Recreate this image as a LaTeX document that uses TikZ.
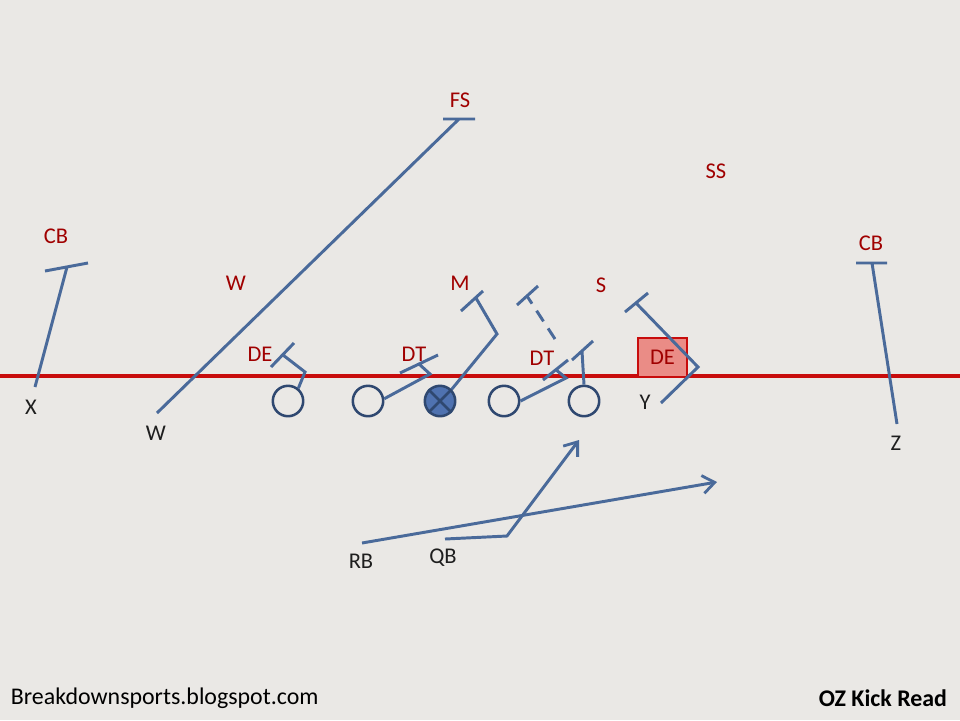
\documentclass[tikz,border=0pt]{standalone}
\usepackage{fontspec}
\setmainfont{Carlito}
\usepackage{xcolor}
\definecolor{field}{RGB}{234,232,229}
\definecolor{routeblue}{RGB}{74,106,154}
\definecolor{playerblue}{RGB}{47,72,112}
\definecolor{qbfill}{RGB}{79,114,176}
\definecolor{losred}{RGB}{200,12,12}
\definecolor{defred}{RGB}{160,0,0}
\definecolor{offgrey}{RGB}{30,30,30}
\definecolor{boxred}{RGB}{234,140,134}
\usetikzlibrary{arrows.meta}

\tikzset{
    oline/.style={circle, draw=playerblue, line width=1.8pt,
        minimum size=7.6mm, inner sep=0pt},
    route/.style={draw=routeblue, line width=2.1pt},
    runarrow/.style={route, -{Straight Barb[length=3mm, width=4.5mm, line width=2pt]}},
    deflabel/.style={text=defred, font=\fontsize{16}{18}\selectfont},
    offlabel/.style={text=offgrey, font=\fontsize{16}{18}\selectfont},
}

\begin{document}
\begin{tikzpicture}
    [x=0.25mm, y=-0.25mm]
    \fill[field] (0,0) rectangle (960,720);
    \useasboundingbox (0,0) rectangle (960,720);
    % line of scrimmage
    \draw[losred, line width=2.3pt] (0,376)--(960,376);
    \node[draw=losred, fill=boxred, line width=1.5pt, minimum width=12.2mm,
        minimum height=9.8mm, inner sep=0pt, deflabel] (de2) at (662.5,357.5) {DE};
    % offensive line
    \node[oline] (lt) at (288,401) {};
    \node[oline] (lg) at (368,401) {};
    \node[oline, fill=qbfill] (ctr) at (440,401) {};
    \node[oline] (rg) at (504,401) {};
    \node[oline] (rt) at (584,401) {};
    \draw[playerblue, line width=1.8pt] (ctr.45)--(ctr.225) (ctr.135)--(ctr.-45);
    % offense
    \node[offlabel] (x) at (31,407) {X};
    \node[offlabel] (w) at (156,433) {W};
    \node[offlabel] (y) at (645,402) {Y};
    \node[offlabel] (z) at (896,443) {Z};
    \node[offlabel] (rb) at (361,561) {RB};
    \node[offlabel] (qb) at (443,558) {QB};
    % defense
    \node[deflabel] (cbl) at (56,236) {CB};
    \node[deflabel] (wl) at (236,283) {W};
    \node[deflabel] (de1) at (260,354) {DE};
    \node[deflabel] (dt1) at (414,354) {DT};
    \node[deflabel] (ml) at (460,283) {M};
    \node[deflabel] (dt2) at (542,358) {DT};
    \node[deflabel] (sl) at (601,285) {S};
    \node[deflabel] (fs) at (460,100) {FS};
    \node[deflabel] (ss) at (716,171) {SS};
    \node[deflabel] (cbr) at (871,243) {CB};
    % routes
    \coordinate (xs) at (35,387);
    \coordinate (xe) at (67,267);
    \coordinate (ws) at (157,413);
    \coordinate (we) at (459,119);
    \coordinate (zs) at (897,424);
    \coordinate (ze) at (872,263);
    \draw[route] (xs)--(xe) ++(-22,4)--++(43,-8);
    \draw[route] (ws)--(we) ++(-16,0)--++(32,0);
    \draw[route] (zs)--(ze) ++(-16,0)--++(31,0);
    % blocks
    \coordinate (ltk) at (305,372);
    \coordinate (lte) at (283,355);
    \draw[route] (lt.51)--(ltk)--(lte) ++(-12,12)--++(23,-24);
    \coordinate (lgk) at (430,374);
    \coordinate (lge) at (419,364);
    \draw[route] (lg.8)--(lgk)--(lge) ++(-19,9)--++(38,-18);
    \coordinate (ctk) at (497,334);
    \coordinate (cte) at (476,298);
    \draw[route] (ctr.45)--(ctk)--(cte) ++(-15,13)--++(22,-20);
    \coordinate (dss) at (555,339);
    \coordinate (dse) at (527,296);
    \draw[route, dash pattern=on 9pt off 6pt] (dss)--(dse);
    \draw[route] (dse) ++(-10,9)--++(21,-19);
    \coordinate (rgk) at (566,378);
    \coordinate (rge) at (555,369);
    \draw[route] (rg.east)--(rgk)--(rge) ++(-12,11)--++(25,-20);
    \coordinate (rte) at (582,351);
    \draw[route] (rt.north)--(rte) ++(-10,9)--++(21,-19);
    \coordinate (ys) at (661,403);
    \coordinate (yk) at (698,367);
    \coordinate (ye) at (636,303);
    \draw[route] (ys)--(yk)--(ye) ++(-11,9)--++(23,-19);
    % backfield
    \coordinate (rbs) at (362,543);
    \coordinate (rbe) at (717,482);
    \coordinate (qbs) at (445,539);
    \coordinate (qbk) at (507,536);
    \coordinate (qbe) at (579,440);
    \draw[runarrow] (rbs)--(rbe);
    \draw[runarrow] (qbs)--(qbk)--(qbe);
    % text
    \node[anchor=west, text=black, font=\fontsize{17}{19}\selectfont] (site) at (6,698)
        {Breakdownsports.blogspot.com};
    \node[anchor=east, text=black, font=\fontsize{17}{19}\selectfont\bfseries] (title) at (952,698)
        {OZ Kick Read};
\end{tikzpicture}
\end{document}
